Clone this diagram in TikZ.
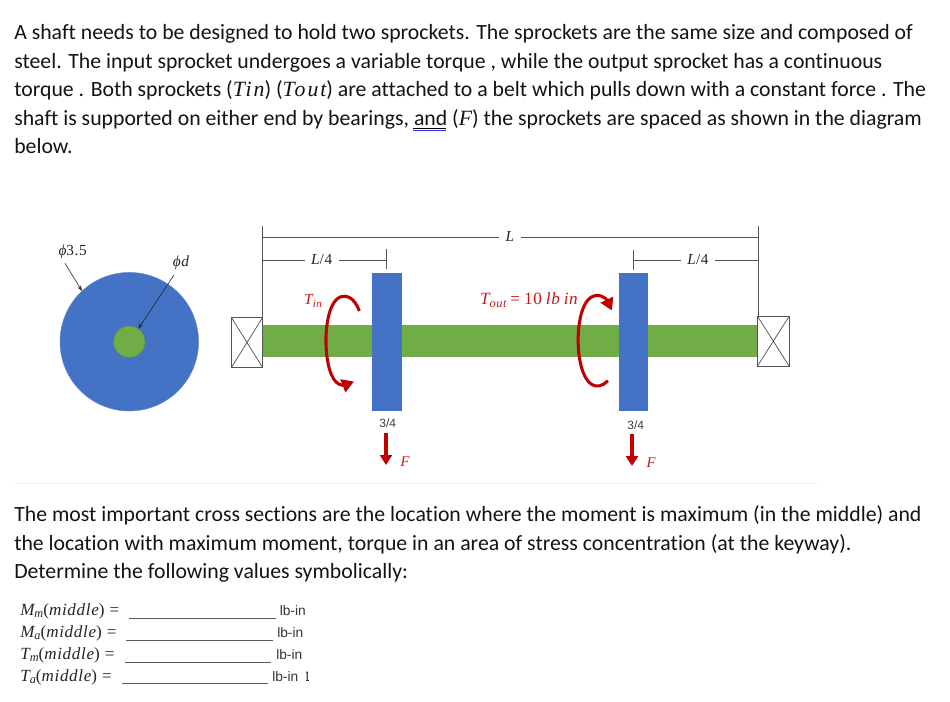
\documentclass[tikz,border=0pt]{standalone}
\usepackage{fontspec}
\setmainfont[Ligatures=CommonOff]{Carlito}
\newfontfamily\labelsans{Liberation Sans}
\newfontfamily\mfont[LetterSpace=4]{Liberation Serif}
\newfontfamily\mwide[LetterSpace=9]{Liberation Serif}
\usetikzlibrary{arrows.meta}
\newcommand\mv[1]{{\mfont\itshape #1}}
\newcommand\mw[1]{{\mwide\itshape #1}}
\newcommand\msb[1]{\raisebox{-0.3ex}{\scalebox{0.72}{\mv{#1}}}}
\definecolor{sprocketblue}{HTML}{4472C4}
\definecolor{shaftgreen}{HTML}{70AD47}
\definecolor{torquered}{HTML}{C00000}
\definecolor{dimgray}{HTML}{555555}
\tikzset{
  para/.style={anchor=base west,inner sep=0pt,font=\fontsize{16.32pt}{19pt}\selectfont,text=black!92},
  dimtext/.style={inner sep=1pt,font=\fontsize{11.5pt}{13pt}\selectfont,text=black!85},
  redtext/.style={inner sep=0pt,font=\fontsize{11.5pt}{13pt}\selectfont,text=torquered!90},
  dimline/.style={draw=dimgray,line width=0.55pt},
  leader/.style={draw=black!85,line width=0.45pt,-{Stealth[length=4pt,width=3pt]}},
  bearing/.style={draw=dimgray,line width=0.6pt,fill=white},
  torque/.style={draw=torquered,line width=2.3pt},
  forcearrow/.style={draw=torquered,line width=2.4pt,-{Triangle[length=7.5pt,width=9pt]}},
  formula/.style={anchor=base west,inner sep=0pt,font=\fontsize{12.8pt}{14pt}\selectfont,text=black!85},
  unit/.style={anchor=base west,inner sep=0pt,font=\labelsans\fontsize{10.3pt}{12pt}\selectfont,text=black!80},
  blank/.style={draw=black!65,line width=0.55pt},
}
\begin{document}
\begin{tikzpicture}[x=0.75pt,y=-0.75pt]
\useasboundingbox (0,0) rectangle (950,701);
\fill[white] (0,0) rectangle (950,701);

% paragraph 1
\node[para] (p1) at (14,39) {A shaft needs to be designed to hold two sprockets. The sprockets are the same size and composed of};
\node[para] (p2) at (14,68) {steel. The input sprocket undergoes a variable torque , while the output sprocket has a continuous};
\node[para] (p3) at (14,96) {torque . Both sprockets (\mw{Tin}) (\mw{Tout}) are attached to a belt which pulls down with a constant force . The};
\node[para] (p4) at (14,125) {shaft is supported on either end by bearings, and (\mv{F}) the sprockets are spaced as shown in the diagram};
\node[para] (p5) at (14,153) {below.};
\draw[black,line width=0.5pt] (413,128.5) -- (446,128.5);
\draw[blue!80!white,line width=0.5pt] (413,130.5) -- (446,130.5);

% end view
\node[circle,fill=sprocketblue,draw=sprocketblue!80!white,line width=0.3pt,minimum size=138.6*0.75pt,inner sep=0pt] (disc) at (129.3,341.7) {};
\node[circle,fill=shaftgreen,draw=shaftgreen!85!black,line width=0.3pt,minimum size=31.4*0.75pt,inner sep=0pt] (bore) at (129.3,341.7) {};
\node[dimtext] (odlabel) at (72.7,252) {\mv{ϕ}{\mfont 3.5}};
\node[dimtext] (idlabel) at (181,263) {\mv{ϕd}};
\coordinate (odstart) at (65,263.3);
\coordinate (idstart) at (174,275);
\draw[leader] (odstart) -- (disc.133);
\draw[leader] (idstart) -- (bore.55);

% shaft view
\fill[shaftgreen] (262,325.3) rectangle (758,357);
\node[anchor=north west,fill=sprocketblue,minimum width=29.3*0.75pt,minimum height=138.7*0.75pt,inner sep=0pt] (s1) at (372,272.3) {};
\node[anchor=north west,fill=sprocketblue,minimum width=29.7*0.75pt,minimum height=138.7*0.75pt,inner sep=0pt] (s2) at (618.3,272.3) {};
\coordinate (lb1) at (231.3,317.3); \coordinate (lb2) at (262.7,367.7);
\coordinate (rb1) at (757.3,316); \coordinate (rb2) at (789.3,366.3);
\draw[bearing] (lb1) rectangle (lb2);
\draw[dimline] (lb1) -- (lb2) (231.3,367.7) -- (262.7,317.3);
\draw[bearing,fill=white] (rb1) rectangle (rb2);
\draw[dimline] (rb1) -- (rb2) (757.3,366.3) -- (789.3,316);

% dimensions
\draw[dimline] (262,226) -- (262,317.3);
\draw[dimline] (758,226) -- (758,316);
\draw[dimline] (262,237.7) -- (758,237.7);
\node[dimtext,fill=white,inner xsep=5pt] (llabel) at (510,236) {\mv{L}};
\draw[dimline] (262,260) -- (386.7,260);
\draw[dimline] (386.7,249) -- (386.7,269);
\node[dimtext,fill=white,inner xsep=5pt] (l4a) at (321.7,260) {\mv{L}{\mfont /4}};
\draw[dimline] (633.3,260) -- (758,260);
\draw[dimline] (633.3,250) -- (633.3,270);
\node[dimtext,fill=white,inner xsep=5pt] (l4b) at (698,260) {\mv{L}{\mfont /4}};

% torques
\node[redtext] (tin) at (313,301) {\mv{T}\msb{in}};
\node[redtext,font=\fontsize{12.9pt}{14pt}\selectfont] (tout) at (529,300) {\mv{T}\msb{out} {\mfont =} {\mfont 10} \mv{lb} \mv{in}};
\coordinate (t1a) at (359.3,311);
\coordinate (t1b) at (354,381.5);
\coordinate (t2a) at (608,380.7);
\coordinate (t2b) at (612,310.5);
\draw[torque,-{Triangle[length=9pt,width=10pt]}] (t1a) .. controls (354,296) and (345,295) .. (340,297) .. controls (322,305) and (322,368) .. (336,382) .. controls (340,386) and (345,385) .. (t1b);
\draw[torque,-{Triangle[length=9pt,width=10pt]}] (t2a) .. controls (603,386) and (596,388) .. (591,384) .. controls (574,372) and (574,310) .. (590,298) .. controls (598,292) and (606,298) .. (t2b);

% sprocket labels and forces
\node[dimtext,text=black!75,font=\labelsans\fontsize{9pt}{10pt}\selectfont] (w1) at (387.7,423.3) {3/4};
\node[dimtext,text=black!75,font=\labelsans\fontsize{9pt}{10pt}\selectfont] (w2) at (635.7,425.3) {3/4};
\coordinate (f1a) at (386,433); \coordinate (f1b) at (386,465);
\coordinate (f2a) at (632,434); \coordinate (f2b) at (632,466);
\draw[forcearrow] (f1a) -- (f1b);
\draw[forcearrow] (f2a) -- (f2b);
\node[redtext,font=\fontsize{11pt}{12pt}\selectfont] (f1) at (405,461.7) {\mv{F}};
\node[redtext,font=\fontsize{11pt}{12pt}\selectfont] (f2) at (651,463) {\mv{F}};

\draw[black!6,line width=0.6pt] (15,483) -- (818,483);

% paragraph 2
\node[para] (q1) at (14,521) {The most important cross sections are the location where the moment is maximum (in the middle) and};
\node[para] (q2) at (14,550) {the location with maximum moment, torque in an area of stress concentration (at the keyway).};
\node[para] (q3) at (14,578) {Determine the following values symbolically:};

% formulas
\node[formula] (m1) at (20,615.5) {\mv{M}\msb{m}{\mfont (}\mv{middle}{\mfont ) =}};
\node[formula] (m2) at (20,637.5) {\mv{M}\msb{a}{\mfont (}\mv{middle}{\mfont ) =}};
\node[formula] (m3) at (20,659) {\mv{T}\msb{m}{\mfont (}\mv{middle}{\mfont ) =}};
\node[formula] (m4) at (20,681) {\mv{T}\msb{a}{\mfont (}\mv{middle}{\mfont ) =}};
\node[unit] (u1) at (279.5,615.5) {lb-in};
\node[unit] (u2) at (277,637.5) {lb-in};
\node[unit] (u3) at (276,659) {lb-in};
\node[unit] (u4) at (272,681) {lb-in};
\draw[blank] (129,618) -- (276,618);
\draw[blank] (126,640) -- (273,640);
\draw[blank] (124.5,662) -- (271,662);
\draw[blank] (121.5,683.5) -- (268,683.5);
\begin{scope}
\clip (306,670) rectangle (308,690);
\node[unit] (u5) at (303,681) {1};
\end{scope}
\end{tikzpicture}
\end{document}
